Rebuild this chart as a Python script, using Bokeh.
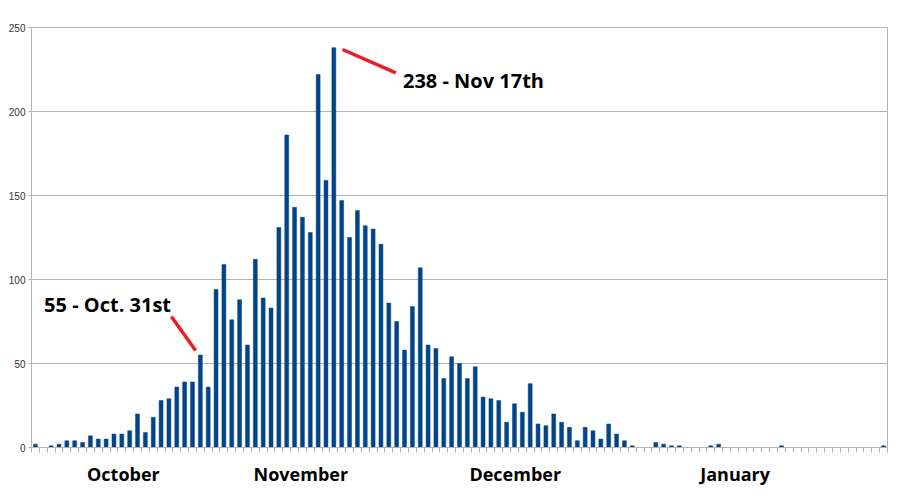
from bokeh.plotting import figure
from bokeh.models import FixedTicker, Range1d, ColumnDataSource
from bokeh.core.properties import value
from bokeh.embed import file_html
from bokeh.resources import INLINE

# Daily counts (109 days, starting early October)
counts = [
    2, 0, 1, 2, 4, 4, 3, 7, 5, 5,
    8, 8, 10, 20, 9, 18, 28, 29, 36, 39,
    39, 55, 36, 94, 109, 76, 88, 61, 112, 89,
    83, 131, 186, 143, 137, 128, 222, 159, 238, 147,
    125, 141, 132, 130, 121, 86, 75, 58, 84, 107,
    61, 59, 41, 54, 50, 41, 48, 30, 29, 28,
    15, 26, 21, 38, 14, 13, 20, 15, 12, 4,
    12, 10, 5, 14, 8, 4, 1, 0, 0, 3,
    2, 1, 1, 0, 0, 0, 1, 2, 0, 0,
    0, 0, 0, 0, 0, 1, 0, 0, 0, 0,
    0, 0, 0, 0, 0, 0, 0, 0, 1,
]
days = list(range(1, len(counts) + 1))

month_labels = ["October", "November", "December", "January"]
month_pos = [12.2, 34.8, 62.1, 90.1]

y_ticks = [0, 50, 100, 150, 200, 250]

# Annotations (data coordinates)
ann_text = ["238 - Nov 17th", "55 - Oct. 31st"]
ann_text_x = [47.8, 2.1]
ann_text_y = [218.5, 85.0]
ann_line_x0 = [40.1, 18.3]
ann_line_y0 = [236.9, 78.0]
ann_line_x1 = [46.9, 21.4]
ann_line_y1 = [223.0, 57.7]

n = len(counts)
p = figure(width=899, height=500, output_backend="svg", toolbar_location=None,
           x_range=Range1d(0.5, n + 0.5), y_range=Range1d(0, 250),
           min_border_left=31, min_border_right=12, min_border_top=27,
           min_border_bottom=53)

src = ColumnDataSource(dict(x=days, top=counts))
p.vbar(x="x", top="top", width=0.5, bottom=0, source=src,
       fill_color="#004586", line_color="#004586", line_width=0.5)

# Grid / outline
p.xgrid.visible = False
p.ygrid.ticker = FixedTicker(ticks=y_ticks)
p.ygrid.grid_line_color = "#b3b3b3"
p.ygrid.grid_line_width = 1
p.outline_line_color = "#b3b3b3"
p.background_fill_color = "white"
p.border_fill_color = "white"

# Y axis
p.yaxis.ticker = FixedTicker(ticks=y_ticks)
p.yaxis.axis_line_color = "#b3b3b3"
p.yaxis.major_tick_line_color = "#b3b3b3"
p.yaxis.major_tick_out = 3
p.yaxis.major_tick_in = 0
p.yaxis.minor_tick_line_color = None
p.yaxis.major_label_text_font = "Liberation Sans"
p.yaxis.major_label_text_font_size = "10px"
p.yaxis.major_label_text_color = "#333333"
p.yaxis.major_label_standoff = 3

# X axis: boundaries as minor ticks, months as labels
boundaries = [d + 0.5 for d in range(0, n + 1)]
p.xaxis.ticker = FixedTicker(ticks=month_pos, minor_ticks=boundaries)
p.xaxis.major_label_overrides = {pos: lab for pos, lab in zip(month_pos, month_labels)}
p.xaxis.major_tick_line_color = None
p.xaxis.minor_tick_line_color = "#b3b3b3"
p.xaxis.minor_tick_out = 5
p.xaxis.minor_tick_in = 0
p.xaxis.axis_line_color = "#b3b3b3"
p.xaxis.major_label_text_font = "Open Sans"
p.xaxis.major_label_text_font_style = "bold"
p.xaxis.major_label_text_font_size = "18px"
p.xaxis.major_label_text_color = "black"
p.xaxis.major_label_standoff = 8

# Annotations
p.segment(x0=ann_line_x0, y0=ann_line_y0, x1=ann_line_x1, y1=ann_line_y1,
          line_color="#ee1c24", line_width=3.5)
p.text(x=ann_text_x, y=ann_text_y, text=ann_text,
       text_font=value("Open Sans"), text_font_style="bold",
       text_font_size="20px", text_color="black", text_baseline="middle",
       text_align="left")

open("out.html", "w").write(file_html(p, INLINE))
